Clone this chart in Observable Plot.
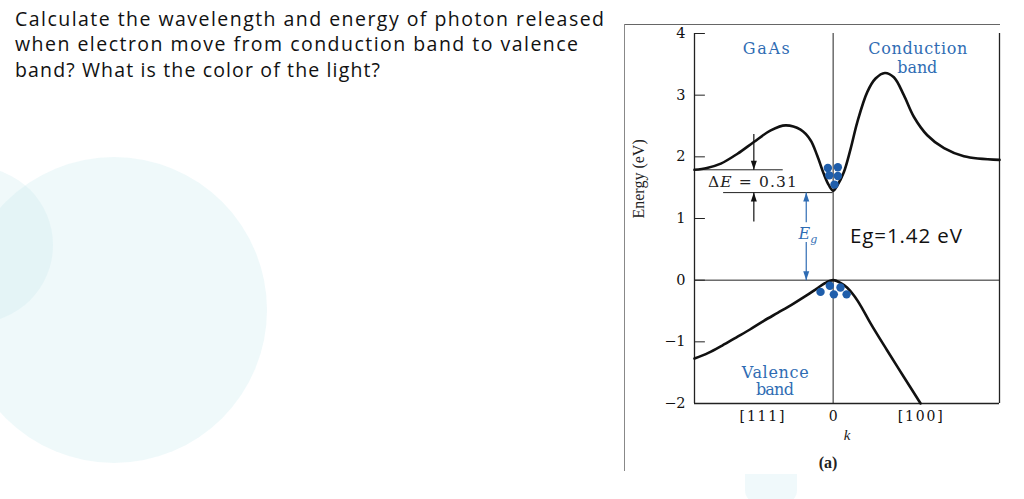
<!DOCTYPE html>
<html>
<head>
<meta charset="utf-8">
<script src="https://cdn.jsdelivr.net/npm/d3@7"></script>
<script src="https://cdn.jsdelivr.net/npm/@observablehq/plot@0.6"></script>
<style>
  html, body { margin: 0; padding: 0; }
  body { width: 1024px; height: 499px; overflow: hidden; background: #fff; position: relative; }
  .bg { position: absolute; border-radius: 50%; }
  #bg1 { left: -39px; top: 157px; width: 306px; height: 306px; background: rgba(218, 240, 244, 0.42); }
  #bg2 { left: -103px; top: 167px; width: 156px; height: 156px; background: rgba(200, 232, 238, 0.28); }
  #bg3 { position: absolute; left: 745px; top: 474px; width: 52px; height: 30px; background: rgba(218, 240, 244, 0.4); border-radius: 0 0 14px 14px; }
  #title { position: absolute; left: 15px; top: 6px; font-family: "Open Sans", sans-serif; font-size: 19.5px; line-height: 25.3px; color: #111; }
  #title span { display: inline-block; white-space: pre; }
  #eg { position: absolute; left: 850px; top: 221px; font-family: "Open Sans", sans-serif; font-size: 20.5px; line-height: normal; color: #111; white-space: pre; }
  #boxTop { position: absolute; left: 624px; top: 24px; width: 376px; height: 0; border-top: 1px solid #666; }
  #boxLeft { position: absolute; left: 624px; top: 24px; width: 0; height: 447px; border-left: 1px solid #888; }
  #chart { position: absolute; left: 620px; top: 0; }
  #cap { position: absolute; left: 808px; width: 40px; text-align: center; top: 454px; font-family: "Liberation Serif", serif; font-weight: bold; font-size: 16px; color: #222; }
</style>
</head>
<body>
<div class="bg" id="bg1"></div>
<div class="bg" id="bg2"></div>
<div id="bg3"></div>
<div id="title"></div>
<div id="boxTop"></div>
<div id="boxLeft"></div>
<div id="chart"></div>
<div id="eg"></div>
<div id="cap"></div>
<script>
// ---------- data ----------
const titleLines = [
  "Calculate the wavelength and energy of photon released",
  "when electron move from conduction band to valence",
  "band? What is the color of the light?"
];
const titleWidths = [589, 563, 365];

const xDomain = [-1, 1.2];
const yDomain = [-2, 4];
const yTicks = [-2, -1, 0, 1, 2, 3, 4];
const xTickK = [-0.506, 0, 0.634];
const xTickLabels = ["[111]", "0", "[100]"];
const yLabel = "Energy (eV)";
const xLabel = "k";
const caption = "(a)";

// conduction band E(k)
const condK = [-1, -0.91, -0.81, -0.69, -0.572, -0.45, -0.343, -0.235, -0.163, -0.115, -0.067, -0.031, 0,
               0.031, 0.077, 0.126, 0.174, 0.246, 0.306, 0.373, 0.438, 0.51, 0.582, 0.679, 0.80, 0.943, 1.2];
const condE = [1.79, 1.82, 1.89, 2.05, 2.24, 2.43, 2.51, 2.44, 2.27, 2.02, 1.72, 1.54, 1.45,
               1.54, 1.75, 2.13, 2.56, 3.05, 3.27, 3.36, 3.29, 3.00, 2.65, 2.35, 2.14, 2.01, 1.95];
// valence band E(k)
const valK = [-1, -0.9, -0.8, -0.7, -0.6, -0.5, -0.4, -0.3, -0.2, -0.12, -0.06, 0,
              0.05, 0.1, 0.15, 0.2, 0.27, 0.39, 0.51, 0.631];
const valE = [-1.27, -1.18, -1.06, -0.93, -0.80, -0.66, -0.53, -0.40, -0.26, -0.14, -0.05, 0,
              -0.04, -0.12, -0.25, -0.42, -0.70, -1.14, -1.57, -2.0];

// electrons (conduction minimum) and holes (valence maximum)
const elecK = [-0.038, 0.034, -0.028, 0.034, 0.010];
const elecE = [1.82, 1.83, 1.70, 1.69, 1.55];
const holeK = [-0.091, -0.024, 0.053, 0.005, 0.097];
const holeE = [-0.19, -0.09, -0.12, -0.23, -0.23];

const deltaE = 0.31;
const Eg = 1.42;

// ΔE reference lines
const refE = [1.79, 1.42];
const refK1 = [-1, -0.79];
const refK2 = [-0.36, 0];

// arrows
const arrowK = [-0.572, -0.572, -0.194, -0.194];
const arrowFrom = [2.37, 0.95, 0.94, 0.62];
const arrowTo = [1.79, 1.42, 1.42, 0];
const arrowBlue = [false, false, true, true];

// labels
const blueLabels = ["GaAs", "Conduction", "band", "Valence", "band"];
const blueLabelK = [-0.476, 0.613, 0.607, -0.416, -0.423];
const blueLabelE = [3.75, 3.75, 3.45, -1.50, -1.78];
const blueLabelW = [47, 99, 40, 67, 38];
const dELabel = `ΔE = ${deltaE}`;
const dELabelK = -0.578, dELabelE = 1.59;
const egLabel = "Eg";
const egLabelK = -0.25, egLabelE = 0.75;
const egText = `Eg=${Eg} eV`;

// ---------- tables ----------
const cond = condK.map((k, i) => ({k, E: condE[i]}));
const val = valK.map((k, i) => ({k, E: valE[i]}));
const elec = elecK.map((k, i) => ({k, E: elecE[i]}));
const holes = holeK.map((k, i) => ({k, E: holeE[i]}));
const refs = refE.map((E, i) => ({E, k1: refK1[i], k2: refK2[i]}));
const arrows = arrowK.map((k, i) => ({k, from: arrowFrom[i], to: arrowTo[i], blue: arrowBlue[i]}));
const blueLab = blueLabels.map((t, i) => ({t, k: blueLabelK[i], E: blueLabelE[i]}));

const BLUE = "#2f6cb3";
const DOTBLUE = "#1f5eab";
const triDown = {draw(c) { c.moveTo(0, 0); c.lineTo(-3, -9); c.lineTo(3, -9); c.closePath(); }};
const triUp = {draw(c) { c.moveTo(0, 0); c.lineTo(-3, 9); c.lineTo(3, 9); c.closePath(); }};
const tickShape = {draw(c, l) { c.moveTo(0, 0); c.lineTo(0, -l); }};
const fmtTick = d => d < 0 ? "\u2212" + Math.abs(d) : String(d);

// ---------- title ----------
const titleEl = document.getElementById("title");
titleLines.forEach((line, i) => {
  const s = document.createElement("span");
  s.textContent = line;
  titleEl.appendChild(s);
  titleEl.appendChild(document.createElement("br"));
});
document.getElementById("eg").textContent = egText;
document.getElementById("cap").textContent = caption;

function fitHTML(el, target) {
  const w = el.getBoundingClientRect().width;
  const n = el.textContent.length;
  el.style.letterSpacing = ((target - w) / (n - 1)) + "px";
}
titleEl.querySelectorAll("span").forEach((s, i) => fitHTML(s, titleWidths[i]));
const egEl = document.getElementById("eg");
egEl.style.display = "inline-block";
fitHTML(egEl, 112);

// ---------- plot ----------
const chart = Plot.plot({
  width: 404,
  height: 499,
  marginLeft: 74,
  marginRight: 25,
  marginTop: 33,
  marginBottom: 96,
  x: {domain: xDomain},
  y: {domain: yDomain},
  style: {fontFamily: "'DejaVu Serif', serif", fontSize: "14px", color: "#111", background: "transparent", overflow: "visible"},
  marks: [
    Plot.ruleY([0], {stroke: "#222", strokeWidth: 1}),
    Plot.ruleX([0], {stroke: "#222", strokeWidth: 1}),
    Plot.ruleX(xDomain, {stroke: "#222", strokeWidth: 1.3}),
    Plot.ruleY([yDomain[0]], {stroke: "#222", strokeWidth: 1.3}),
    Plot.vector(yTicks, {y: d => d, frameAnchor: "left", length: 10, rotate: 90, anchor: "start", shape: tickShape, stroke: "#222", strokeWidth: 1}),
    Plot.axisY({ticks: yTicks, tickFormat: fmtTick, tickSize: 0, tickPadding: 9, label: null, fontSize: 14.5}),
    Plot.axisX({ticks: xTickK, tickFormat: d => xTickLabels[xTickK.indexOf(d)], tickSize: 0, tickPadding: 8, label: null, fontSize: 14}),
    Plot.text([yLabel], {frameAnchor: "left", dx: -56, rotate: -90, fontSize: 16, fontFamily: "'Liberation Serif', serif", fill: "#222"}),
    Plot.text([xLabel], {frameAnchor: "bottom", dy: 36, fontStyle: "italic", fontSize: 15, fontFamily: "'Liberation Serif', serif", fill: "#222"}),
    // ΔE reference lines
    Plot.ruleY(refs, {y: "E", x1: "k1", x2: "k2", stroke: "#222", strokeWidth: 1}),
    // arrows (shafts + heads)
    Plot.link(arrows, {x1: "k", x2: "k", y1: "from", y2: "to", stroke: d => d.blue ? BLUE : "#111", strokeWidth: 1.2}),
    Plot.dot(arrows.filter(d => d.to < d.from), {x: "k", y: "to", symbol: triDown, fill: d => d.blue ? BLUE : "#111", stroke: "none"}),
    Plot.dot(arrows.filter(d => d.to > d.from), {x: "k", y: "to", symbol: triUp, fill: d => d.blue ? BLUE : "#111", stroke: "none"}),
    // bands
    Plot.line(cond, {x: "k", y: "E", curve: "catmull-rom", stroke: "#111", strokeWidth: 2.6}),
    Plot.line(val, {x: "k", y: "E", curve: "catmull-rom", stroke: "#111", strokeWidth: 2.6}),
    // carriers
    Plot.dot(elec, {x: "k", y: "E", r: 4.2, fill: DOTBLUE, stroke: "none"}),
    Plot.dot(holes, {x: "k", y: "E", r: 4.2, fill: DOTBLUE, stroke: "none"}),
    // labels
    Plot.text(blueLab, {x: "k", y: "E", text: "t", fill: BLUE, fontSize: 16}),
    Plot.text([dELabel], {x: dELabelK, y: dELabelE, fill: "#222", fontSize: 15.5}),
    Plot.text([egLabel], {x: egLabelK, y: egLabelE, fill: BLUE, fontSize: 16, textAnchor: "start"})
  ]
});
document.getElementById("chart").appendChild(chart);

// ---------- text styling ----------
const SVGNS = "http://www.w3.org/2000/svg";
function fitSVG(t, target) {
  const w = t.getComputedTextLength();
  const n = t.textContent.length;
  const ls = (target - w) / (n - 1);
  t.style.letterSpacing = ls + "px";
}
chart.querySelectorAll("text").forEach(t => {
  const s = t.textContent;
  if (s === dELabel) {
    t.textContent = "";
    const a = document.createElementNS(SVGNS, "tspan"); a.textContent = "Δ";
    const b = document.createElementNS(SVGNS, "tspan"); b.textContent = "E"; b.setAttribute("font-style", "italic");
    const c = document.createElementNS(SVGNS, "tspan"); c.textContent = " = " + deltaE;
    t.append(a, b, c);
    fitSVG(t, 89);
  } else if (s === egLabel) {
    t.textContent = "";
    const a = document.createElementNS(SVGNS, "tspan"); a.textContent = "E"; a.setAttribute("font-style", "italic");
    const b = document.createElementNS(SVGNS, "tspan"); b.textContent = "g"; b.setAttribute("font-style", "italic");
    b.setAttribute("font-size", "11"); b.setAttribute("dy", "4");
    t.append(a, b);
  } else if (s === "[111]" || s === "[100]") {
    fitSVG(t, 45);
  }
});
// blue labels in order
let bi = 0;
chart.querySelectorAll("text").forEach(t => {
  const s = t.textContent;
  if (bi < blueLabels.length && s === blueLabels[bi]) { fitSVG(t, blueLabelW[bi]); bi++; }
});
</script>
</body>
</html>
